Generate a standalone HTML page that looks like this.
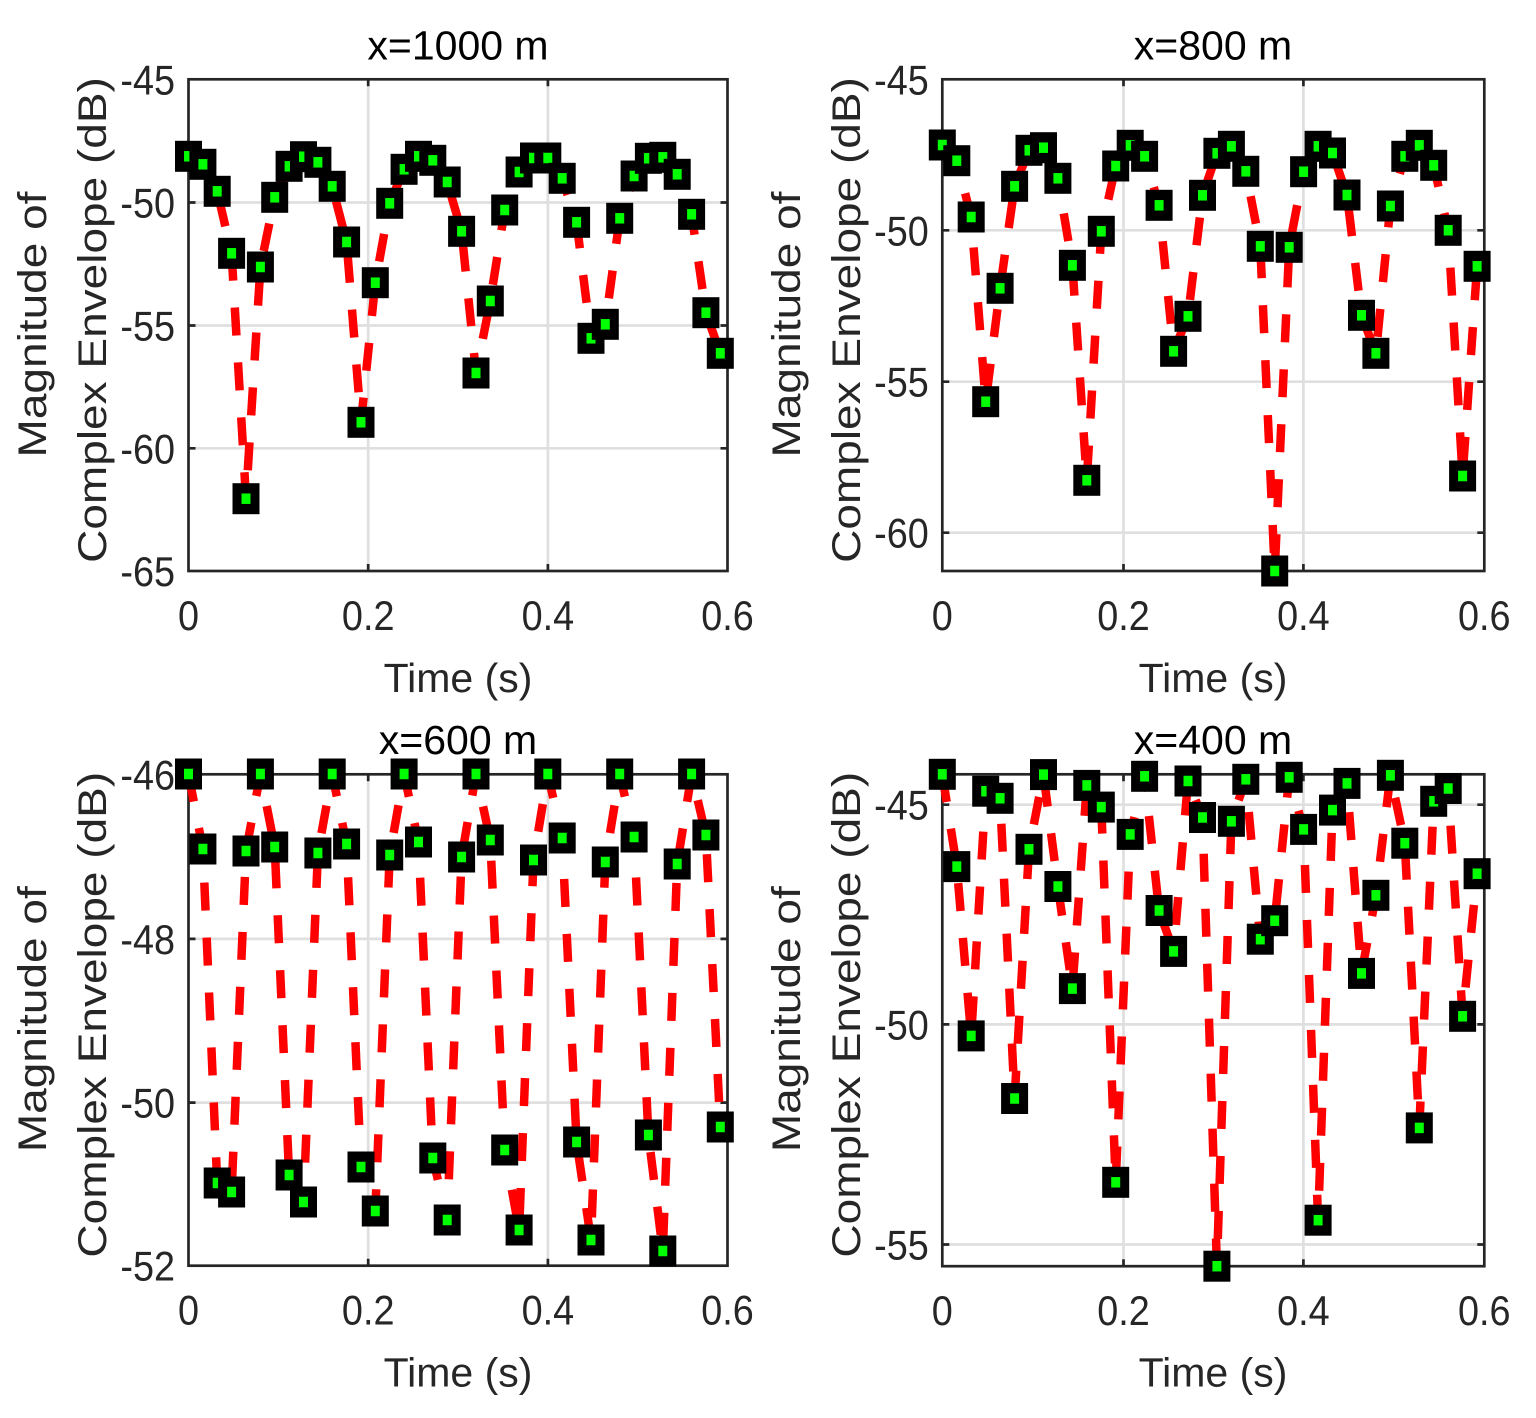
<!DOCTYPE html>
<html>
<head>
<meta charset="utf-8">
<style>
html,body{margin:0;padding:0;background:#fff}
svg{display:block}
</style>
</head>
<body>
<svg width="1536" height="1418" viewBox="0 0 1536 1418" xmlns="http://www.w3.org/2000/svg" font-family="'Liberation Sans', Arial, Helvetica, sans-serif">
<defs>
<marker id="sq" markerUnits="userSpaceOnUse" markerWidth="28" markerHeight="32" refX="14" refY="16" overflow="visible">
<rect x="0.5" y="0.5" width="27" height="31" fill="#000"/>
<rect x="9.5" y="10.75" width="9" height="10.5" fill="#00ff00"/>
</marker>
</defs>
<rect width="1536" height="1418" fill="#fff"/>

<!-- Grid -->
<g stroke="#dfdfdf" stroke-width="2.7" fill="none">
<path d="M368.2 79.3V571M547.9 79.3V571M188.5 202.5H727.5M188.5 325.5H727.5M188.5 448.3H727.5"/>
<path d="M1123.5 79.3V571M1303.4 79.3V571M942.3 230.3H1484.3M942.3 381.7H1484.3M942.3 532.7H1484.3"/>
<path d="M368.2 774.3V1265.7M547.9 774.3V1265.7M188.5 938.9H727.5M188.5 1102.6H727.5"/>
<path d="M1123.5 774.3V1266.2M1303.4 774.3V1266.2M942.3 804.7H1484.3M942.3 1024.4H1484.3M942.3 1244.5H1484.3"/>
</g>

<!-- Axes boxes and ticks -->
<g stroke="#262626" stroke-width="2.7" fill="none">
<rect x="188.5" y="79.3" width="539" height="491.7"/>
<rect x="942.3" y="79.3" width="542" height="491.7"/>
<rect x="188.5" y="774.3" width="539" height="491.4"/>
<rect x="942.3" y="774.3" width="542" height="491.9"/>
<path d="M368.2 571v-7M547.9 571v-7M368.2 79.3v7M547.9 79.3v7M188.5 202.5h7M188.5 325.5h7M188.5 448.3h7M727.5 202.5h-7M727.5 325.5h-7M727.5 448.3h-7"/>
<path d="M1123.5 571v-7M1303.4 571v-7M1123.5 79.3v7M1303.4 79.3v7M942.3 230.3h7M942.3 381.7h7M942.3 532.7h7M1484.3 230.3h-7M1484.3 381.7h-7M1484.3 532.7h-7"/>
<path d="M368.2 1265.7v-7M547.9 1265.7v-7M368.2 774.3v7M547.9 774.3v7M188.5 938.9h7M188.5 1102.6h7M727.5 938.9h-7M727.5 1102.6h-7"/>
<path d="M1123.5 1266.2v-7M1303.4 1266.2v-7M1123.5 774.3v7M1303.4 774.3v7M942.3 804.7h7M942.3 1024.4h7M942.3 1244.5h7M1484.3 804.7h-7M1484.3 1024.4h-7M1484.3 1244.5h-7"/>
</g>

<!-- Red dashed lines -->
<g stroke="#ff0000" stroke-width="8.5" fill="none" stroke-dasharray="28 27" stroke-linejoin="miter">
<polyline points="188.5,156.3 202.9,164.3 217.2,191.3 231.6,253.3 246,498.7 260.4,267 274.7,197.3 289.1,166.3 303.5,156.7 317.9,162.3 332.2,186.3 346.6,242 361,422.3 375.3,282.7 389.7,203.3 404.1,169.3 418.5,156.3 432.8,160.3 447.2,182 461.6,231.3 476,373 490.3,301 504.7,210 519.1,172 533.5,158 547.8,158 562.2,178.3 576.6,222.3 591,338.3 605.3,324.3 619.7,218.3 634.1,176 648.4,158.3 662.8,157.3 677.2,174.3 691.6,214.3 705.9,312.7 720.3,353.3"/>
<polyline points="942.3,145 956.8,160.7 971.2,217 985.7,401.7 1000.1,288.3 1014.6,186.3 1029,150.3 1043.5,147.7 1057.9,178.3 1072.4,265.3 1086.8,480.3 1101.3,231.3 1115.7,166 1130.2,145.3 1144.6,156.3 1159.1,205.3 1173.6,351.3 1188,316.3 1202.5,195.3 1216.9,153.3 1231.4,146.3 1245.8,171.3 1260.3,246.3 1274.7,571 1289.2,247.3 1303.6,171.7 1318.1,146.3 1332.5,153 1347,195 1361.5,315.3 1375.9,353.3 1390.4,206 1404.8,156.3 1419.3,145.3 1433.7,165.3 1448.2,230.3 1462.6,476 1477.1,266.3"/>
<polyline points="188.5,774 202.9,849 217.2,1183 231.6,1192 246,851 260.4,774 274.7,847 289.1,1175 303.5,1202 317.9,853 332.2,774 346.6,844 361,1167 375.3,1211 389.7,855 404.1,774 418.5,842 432.8,1158 447.2,1220 461.6,857 476,774 490.3,840 504.7,1150 519.1,1230 533.5,860 547.8,774 562.2,838 576.6,1142 591,1240 605.3,862 619.7,774 634.1,837 648.4,1135 662.8,1251 677.2,864 691.6,774 705.9,835 720.3,1127"/>
<polyline points="942.3,774.3 956.8,866.6 971.2,1035.9 985.7,791.2 1000.1,798.3 1014.6,1098.5 1029,849.3 1043.5,774.6 1057.9,886.5 1072.4,988.6 1086.8,785.4 1101.3,807.1 1115.7,1182.3 1130.2,834.4 1144.6,776.3 1159.1,910.5 1173.6,951.4 1188,781 1202.5,817.5 1216.9,1266.2 1231.4,821.3 1245.8,779.3 1260.3,939.2 1274.7,920.7 1289.2,777.3 1303.6,829.4 1318.1,1220.2 1332.5,810.1 1347,783.4 1361.5,973.4 1375.9,895.3 1390.4,775.3 1404.8,843.2 1419.3,1127.9 1433.7,801.3 1448.2,788.5 1462.6,1016.3 1477.1,873.7"/>
</g>

<!-- Markers -->
<g fill="none" stroke="none" marker-start="url(#sq)" marker-mid="url(#sq)" marker-end="url(#sq)">
<polyline points="188.5,156.3 202.9,164.3 217.2,191.3 231.6,253.3 246,498.7 260.4,267 274.7,197.3 289.1,166.3 303.5,156.7 317.9,162.3 332.2,186.3 346.6,242 361,422.3 375.3,282.7 389.7,203.3 404.1,169.3 418.5,156.3 432.8,160.3 447.2,182 461.6,231.3 476,373 490.3,301 504.7,210 519.1,172 533.5,158 547.8,158 562.2,178.3 576.6,222.3 591,338.3 605.3,324.3 619.7,218.3 634.1,176 648.4,158.3 662.8,157.3 677.2,174.3 691.6,214.3 705.9,312.7 720.3,353.3"/>
<polyline points="942.3,145 956.8,160.7 971.2,217 985.7,401.7 1000.1,288.3 1014.6,186.3 1029,150.3 1043.5,147.7 1057.9,178.3 1072.4,265.3 1086.8,480.3 1101.3,231.3 1115.7,166 1130.2,145.3 1144.6,156.3 1159.1,205.3 1173.6,351.3 1188,316.3 1202.5,195.3 1216.9,153.3 1231.4,146.3 1245.8,171.3 1260.3,246.3 1274.7,571 1289.2,247.3 1303.6,171.7 1318.1,146.3 1332.5,153 1347,195 1361.5,315.3 1375.9,353.3 1390.4,206 1404.8,156.3 1419.3,145.3 1433.7,165.3 1448.2,230.3 1462.6,476 1477.1,266.3"/>
<polyline points="188.5,774 202.9,849 217.2,1183 231.6,1192 246,851 260.4,774 274.7,847 289.1,1175 303.5,1202 317.9,853 332.2,774 346.6,844 361,1167 375.3,1211 389.7,855 404.1,774 418.5,842 432.8,1158 447.2,1220 461.6,857 476,774 490.3,840 504.7,1150 519.1,1230 533.5,860 547.8,774 562.2,838 576.6,1142 591,1240 605.3,862 619.7,774 634.1,837 648.4,1135 662.8,1251 677.2,864 691.6,774 705.9,835 720.3,1127"/>
<polyline points="942.3,774.3 956.8,866.6 971.2,1035.9 985.7,791.2 1000.1,798.3 1014.6,1098.5 1029,849.3 1043.5,774.6 1057.9,886.5 1072.4,988.6 1086.8,785.4 1101.3,807.1 1115.7,1182.3 1130.2,834.4 1144.6,776.3 1159.1,910.5 1173.6,951.4 1188,781 1202.5,817.5 1216.9,1266.2 1231.4,821.3 1245.8,779.3 1260.3,939.2 1274.7,920.7 1289.2,777.3 1303.6,829.4 1318.1,1220.2 1332.5,810.1 1347,783.4 1361.5,973.4 1375.9,895.3 1390.4,775.3 1404.8,843.2 1419.3,1127.9 1433.7,801.3 1448.2,788.5 1462.6,1016.3 1477.1,873.7"/>
</g>

<!-- Y tick labels -->
<g font-size="42" fill="#262626" text-anchor="end">
<text transform="translate(175,94.3) scale(0.9,1)">-45</text>
<text transform="translate(175,217.5) scale(0.9,1)">-50</text>
<text transform="translate(175,340.5) scale(0.9,1)">-55</text>
<text transform="translate(175,463.3) scale(0.9,1)">-60</text>
<text transform="translate(175,586) scale(0.9,1)">-65</text>

<text transform="translate(928.8,94.3) scale(0.9,1)">-45</text>
<text transform="translate(928.8,245.3) scale(0.9,1)">-50</text>
<text transform="translate(928.8,396.7) scale(0.9,1)">-55</text>
<text transform="translate(928.8,547.7) scale(0.9,1)">-60</text>

<text transform="translate(175,789.3) scale(0.9,1)">-46</text>
<text transform="translate(175,953.9) scale(0.9,1)">-48</text>
<text transform="translate(175,1117.6) scale(0.9,1)">-50</text>
<text transform="translate(175,1280.7) scale(0.9,1)">-52</text>

<text transform="translate(928.8,819.7) scale(0.9,1)">-45</text>
<text transform="translate(928.8,1039.4) scale(0.9,1)">-50</text>
<text transform="translate(928.8,1259.5) scale(0.9,1)">-55</text>
</g>

<!-- X tick labels -->
<g font-size="42" fill="#262626" text-anchor="middle">
<text transform="translate(188.5,630) scale(0.9,1)">0</text>
<text transform="translate(368.2,630) scale(0.9,1)">0.2</text>
<text transform="translate(547.9,630) scale(0.9,1)">0.4</text>
<text transform="translate(727.5,630) scale(0.9,1)">0.6</text>

<text transform="translate(942.3,630) scale(0.9,1)">0</text>
<text transform="translate(1123.5,630) scale(0.9,1)">0.2</text>
<text transform="translate(1303.4,630) scale(0.9,1)">0.4</text>
<text transform="translate(1484.3,630) scale(0.9,1)">0.6</text>

<text transform="translate(188.5,1324.7) scale(0.9,1)">0</text>
<text transform="translate(368.2,1324.7) scale(0.9,1)">0.2</text>
<text transform="translate(547.9,1324.7) scale(0.9,1)">0.4</text>
<text transform="translate(727.5,1324.7) scale(0.9,1)">0.6</text>

<text transform="translate(942.3,1325) scale(0.9,1)">0</text>
<text transform="translate(1123.5,1325) scale(0.9,1)">0.2</text>
<text transform="translate(1303.4,1325) scale(0.9,1)">0.4</text>
<text transform="translate(1484.3,1325) scale(0.9,1)">0.6</text>
</g>

<!-- Titles -->
<g font-size="41" fill="#000" text-anchor="middle">
<text x="458" y="59.5">x=1000 m</text>
<text x="1213" y="59.5">x=800 m</text>
<text x="458" y="754.2">x=600 m</text>
<text x="1213" y="754.2">x=400 m</text>
</g>

<!-- X labels -->
<g font-size="41" fill="#262626" text-anchor="middle">
<text x="458" y="692">Time (s)</text>
<text x="1213" y="692">Time (s)</text>
<text x="458" y="1386.7">Time (s)</text>
<text x="1213" y="1386.7">Time (s)</text>
</g>

<!-- Y labels -->
<g font-size="46" fill="#262626" text-anchor="middle">
<text transform="translate(46,324.5) scale(0.87,1) rotate(-90)">Magnitude of</text>
<text transform="translate(106,320) scale(0.87,1) rotate(-90)">Complex Envelope (dB)</text>
<text transform="translate(800,324.5) scale(0.87,1) rotate(-90)">Magnitude of</text>
<text transform="translate(860,320) scale(0.87,1) rotate(-90)">Complex Envelope (dB)</text>
<text transform="translate(46,1019.2) scale(0.87,1) rotate(-90)">Magnitude of</text>
<text transform="translate(106,1014.7) scale(0.87,1) rotate(-90)">Complex Envelope (dB)</text>
<text transform="translate(800,1019.2) scale(0.87,1) rotate(-90)">Magnitude of</text>
<text transform="translate(860,1014.7) scale(0.87,1) rotate(-90)">Complex Envelope (dB)</text>
</g>
</svg>
</body>
</html>
